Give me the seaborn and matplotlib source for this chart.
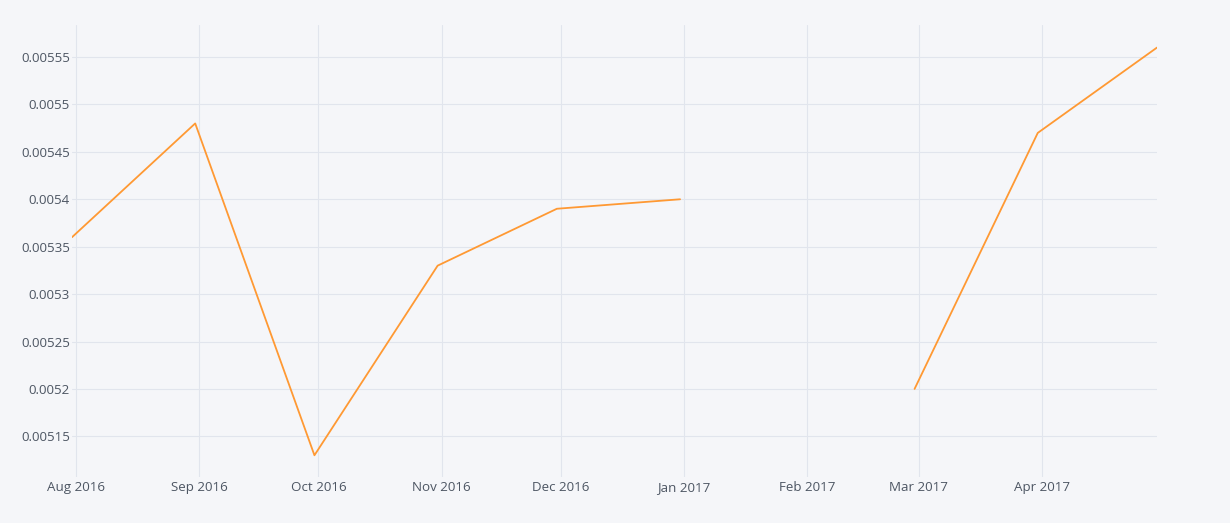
import numpy as np
import pandas as pd
import matplotlib
matplotlib.use("Agg")
import matplotlib.pyplot as plt
import matplotlib.dates as mdates
from matplotlib.ticker import FuncFormatter, MultipleLocator
import seaborn as sns

# month-end observations; Jan 2017 is missing
DATES = ["2016-07-31", "2016-08-31", "2016-09-30", "2016-10-31", "2016-11-30",
         "2016-12-31", "2017-01-31", "2017-02-28", "2017-03-31", "2017-04-30"]
VALUES = [0.00536, 0.00548, 0.00513, 0.00533, 0.00539,
          0.00540, np.nan, 0.00520, 0.00547, 0.00556]

BG = "#f5f6f9"
GRID = "#e1e5ed"
TEXT = "#4d5663"
LINE = "#ff9933"

df = pd.DataFrame({"date": pd.to_datetime(DATES), "value": VALUES})
# split at the gap so the line is broken like the original
df["segment"] = df["value"].isna().cumsum()
df = df.dropna(subset=["value"])

sns.set_style("white")
plt.rcParams["font.family"] = ["Open Sans", "DejaVu Sans"]

fig = plt.figure(figsize=(12.3, 5.23), dpi=100, facecolor=BG)
ax = fig.add_axes([72 / 1230, 46 / 523, (1157 - 72) / 1230, 452 / 523])
ax.set_facecolor(BG)

sns.lineplot(data=df, x="date", y="value", units="segment", estimator=None,
             color=LINE, linewidth=1.3, ax=ax)

ax.set_xlim(pd.Timestamp("2016-07-31"), pd.Timestamp("2017-04-30"))
ax.set_ylim(0.0051071, 0.0055838)

ax.xaxis.set_major_locator(mdates.MonthLocator())
ax.xaxis.set_major_formatter(mdates.DateFormatter("%b %Y"))
ax.yaxis.set_major_locator(MultipleLocator(0.00005))
ax.yaxis.set_major_formatter(FuncFormatter(lambda v, _: f"{v:.5f}".rstrip("0")))

ax.grid(True, color=GRID, linewidth=0.8)
ax.set_axisbelow(True)
for s in ax.spines.values():
    s.set_visible(False)
ax.tick_params(length=0, labelsize=9.6, colors=TEXT)
ax.tick_params(axis="y", pad=1.5)
ax.tick_params(axis="x", pad=10)
for lbl in ax.get_xticklabels():
    lbl.set_va("baseline")  # keep "Jan" on the same line as the others
ax.set_xlabel("")
ax.set_ylabel("")
if ax.get_legend():
    ax.get_legend().remove()

fig.savefig("out.png", dpi=100, facecolor=BG)
